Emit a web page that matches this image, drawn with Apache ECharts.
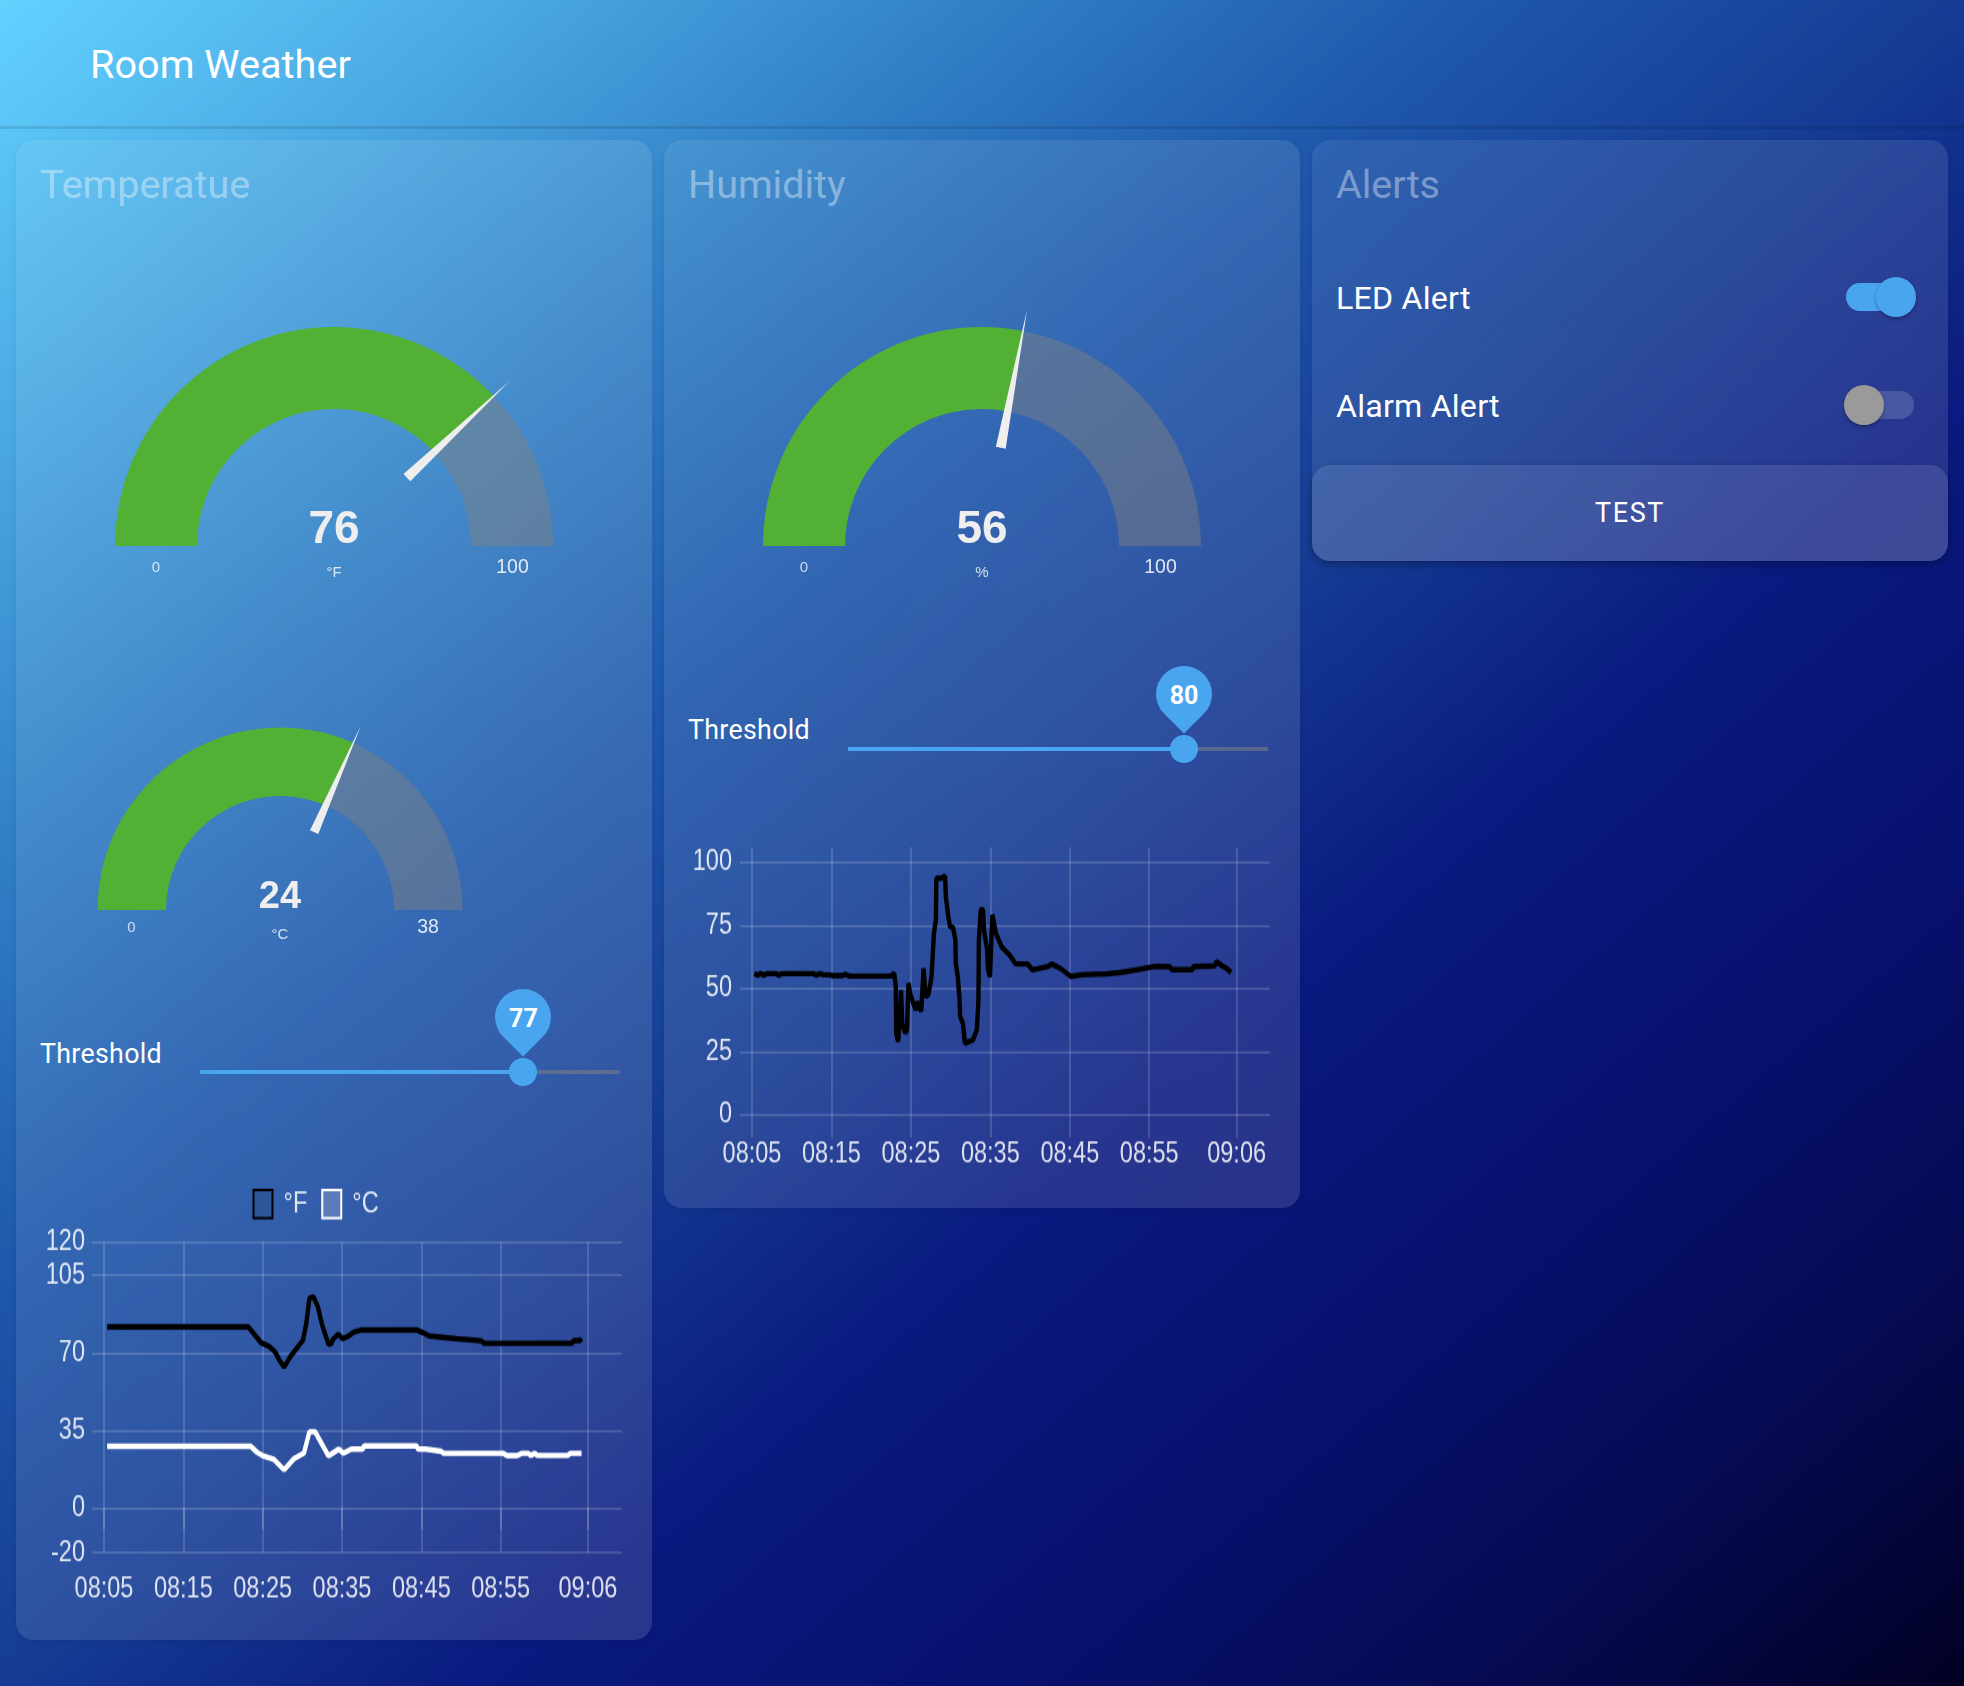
<!DOCTYPE html>
<html lang="en">
<head>
    <meta charset="UTF-8">
    <title>Room Weather</title>
    <script src="https://cdn.jsdelivr.net/npm/echarts@6/dist/echarts.min.js"></script>
    <style>
        html, body { margin: 0; padding: 0; width: 1964px; height: 1686px; overflow: hidden; }
        body {
            position: relative;
            font-family: Roboto, sans-serif;
            color: #fff;
            background: linear-gradient(to bottom right, #62d2ff 0%, #4aa8e2 13%, #3180c6 25%, #1e57ab 38%, #153c94 50%, #0a1a80 62%, #07106c 76%, #050a50 88%, #010024 100%);
        }
        .abs { position: absolute; }
        .header { left: 0; top: 0; width: 1964px; height: 126px; border-bottom: 3px solid rgba(0,0,0,.1); }
        .brand { left: 90px; top: 41px; font-size: 39.7px; line-height: 48px; }
        .card { width: 636px; background: linear-gradient(to bottom right, rgba(255,255,255,.07), rgba(255,255,255,.13)); border-radius: 18px; box-shadow: 0 2px 6px rgba(0,0,0,.08); }
        .card-title { font-size: 39.5px; line-height: 46px; color: rgba(255,255,255,.4); }
        .label { font-size: 26.8px; line-height: 32px; letter-spacing: .3px; }
        .alert { font-size: 32.2px; line-height: 38px; letter-spacing: .2px; }
        .button { left: 1312px; top: 465px; width: 636px; height: 96px; border-radius: 18px; background: rgba(255,255,255,.1); box-shadow: 0 3px 8px rgba(0,0,0,.25);
            font-size: 27px; line-height: 96px; text-align: center; font-weight: 400; letter-spacing: 1.6px; }
        .rail { height: 4px; background: rgba(128,128,128,.55); }
        .fill { height: 4px; background: #4aa5f0; }
        .thumb { width: 28px; height: 28px; border-radius: 50%; background: #4aa5f0; }
        .bubble { width: 56px; height: 56px; background: #4aa5f0; border-radius: 50% 50% 0 50%; transform: rotate(45deg); }
        .bubble-text { width: 56px; text-align: center; font-size: 25px; line-height: 30px; font-weight: 700; }
        .track { width: 68px; height: 28px; border-radius: 14px; }
        .knob { width: 40px; height: 40px; border-radius: 50%; box-shadow: 0 2px 4px rgba(0,0,0,.3); }
        .chart { position: absolute; }
        .stretch { transform: scaleY(1.25); transform-origin: 0 0; }
    </style>
</head>
<body>
    <div class="abs header"></div>
    <div class="abs brand">Room Weather</div>

    <div class="abs card" style="left:16px;top:140px;height:1500px"></div>
    <div class="abs card" style="left:664px;top:140px;height:1068px"></div>
    <div class="abs card" style="left:1312px;top:140px;height:421px"></div>

    <div class="abs card-title" style="left:40px;top:162px">Temperatue</div>
    <div class="abs card-title" style="left:688px;top:162px">Humidity</div>
    <div class="abs card-title" style="left:1336px;top:162px">Alerts</div>

    <div class="abs alert" style="left:1336px;top:279px">LED Alert</div>
    <div class="abs track" style="left:1846px;top:283px;background:#4aa5f0"></div>
    <div class="abs knob" style="left:1876px;top:277px;background:#4aa5f0"></div>
    <div class="abs alert" style="left:1336px;top:387px">Alarm Alert</div>
    <div class="abs track" style="left:1846px;top:391px;background:rgba(255,255,255,.16)"></div>
    <div class="abs knob" style="left:1844px;top:385px;background:#9a9a9a"></div>
    <div class="abs button">TEST</div>

    <div id="gaugeF" class="chart" style="left:40px;top:280px;width:600px;height:320px"></div>
    <div id="gaugeC" class="chart" style="left:40px;top:700px;width:600px;height:260px"></div>
    <div id="gaugeH" class="chart" style="left:688px;top:280px;width:600px;height:320px"></div>
    <div id="lineTemp" class="chart stretch" style="left:40px;top:1170px;width:600px;height:352px"></div>
    <div id="lineHum" class="chart stretch" style="left:680px;top:830px;width:610px;height:280px"></div>

    <script>
        // values
        var tickMinutes = [0, 10, 20, 30, 40, 50, 61];
        var tickLabels = ['08:05', '08:15', '08:25', '08:35', '08:45', '08:55', '09:06'];
        var tempTicks = [-20, 0, 35, 70, 105, 120];
        var humTicks = [0, 25, 50, 75, 100];

        var fMinutes = [0.4, 18.2, 19.8, 20.85, 21.6, 22.1, 22.7, 23.5, 25.1, 25.5, 25.9, 26.4, 26.95, 27.5, 28.3, 28.65, 28.8, 29.5, 30.1, 30.7, 31.5, 32.5, 39.4, 40.2, 41, 41.8, 41.9, 44.5, 44.7, 47.6, 47.9, 59, 59.2, 60, 60.2];
        var fValues = [81.7, 81.7, 74.6, 72.8, 70.3, 66.8, 63.5, 68.3, 75.8, 83.3, 94.6, 95.3, 90.8, 82.6, 73.9, 74, 75.8, 78.4, 76.3, 77.3, 79.4, 80.3, 80.3, 79.1, 77.6, 77.3, 76.3, 76.3, 75.4, 75.4, 74.3, 74.3, 75.5, 75.5, 76.6];

        var cMinutes = [0.4, 18.5, 19.3, 20, 21.4, 22.7, 24, 25.2, 25.9, 26.6, 28.3, 29.6, 30.2, 31.2, 32.6, 32.8, 39.4, 39.6, 40.5, 40.7, 42.5, 42.8, 50.3, 50.8, 52.1, 52.7, 53.5, 53.8, 54.3, 54.6, 58.5, 58.8, 60.2];
        var cValues = [27.9, 27.9, 25.2, 23.7, 22.1, 17.3, 22.5, 24.8, 34.5, 34.5, 23.6, 26.7, 24.8, 26.7, 26.7, 28.1, 28.1, 26.7, 26.7, 25.7, 25.7, 24.8, 24.8, 23.7, 23.7, 24.8, 24.8, 23.7, 24.8, 23.8, 23.8, 24.8, 24.8];

        var humMinutes = [0.3, 0.7, 1.1, 1.5, 1.9, 3, 3.4, 3.8, 4.2, 7.7, 8.1, 8.5, 9, 9.7, 10.1, 11.4, 11.8, 12.2, 17.5, 17.9, 18.1, 18.15, 18.4, 18.6, 18.76, 18.9, 19.3, 19.5, 19.7, 19.95, 20.6, 20.9, 21.3, 21.6, 21.85, 22.2, 22.6, 22.9, 23.15, 23.2, 23.9, 24.3, 24.4, 24.7, 24.95, 25.3, 25.6, 25.65, 25.9, 26.1, 26.2, 26.55, 26.8, 27.8, 28.3, 28.5, 28.56, 28.8, 29.07, 29.2, 29.6, 29.7, 29.95, 30.1, 30.26, 30.46, 30.7, 31.4, 32.4, 33.2, 34.7, 35.3, 37.3, 37.7, 38.9, 40.15, 41.4, 44.8, 46.3, 48.4, 50.7, 52.5, 52.9, 55.4, 55.6, 58.2, 58.5, 59, 59.7, 60.3];
        var humValues = [56, 55.3, 56, 55.3, 56, 56, 55.3, 56, 56, 56, 55.3, 56, 55.5, 55.5, 55.2, 55.2, 55.7, 55, 55, 56.1, 50.9, 32.4, 29, 37.6, 49.5, 36.3, 32.4, 33.7, 52.2, 47.6, 41.6, 44.9, 41, 58.1, 46.9, 47.6, 54.8, 72, 77.3, 93.8, 93.8, 94.7, 86.5, 78.6, 74.4, 74.4, 69.4, 60, 54.8, 46.9, 39, 36.3, 28.4, 29.7, 33.7, 45.6, 69.4, 81.2, 81.5, 73.3, 65.4, 57.5, 54.6, 66.7, 79.3, 80.2, 72, 66.7, 63.4, 59.8, 59.8, 57.5, 58.8, 59.8, 57.9, 54.8, 55.5, 55.9, 56.4, 57.5, 58.8, 58.8, 57.5, 57.5, 58.8, 59, 60.8, 59.4, 58.1, 56.5];

        var gaugeFont = '"Liberation Sans", Arial, sans-serif';

        function drawGauge(id, o) {
            var chart = echarts.init(document.getElementById(id));
            chart.setOption({
                animation: false,
                series: [{
                    type: 'gauge',
                    center: [o.cx, o.cy],
                    radius: o.r,
                    startAngle: 180,
                    endAngle: 0,
                    min: 0,
                    max: o.max,
                    axisLine: { lineStyle: { width: o.band, color: [[o.value / o.max, '#52b135'], [1, 'rgba(127,127,127,.47)']] } },
                    axisTick: { show: false },
                    splitLine: { show: false },
                    axisLabel: { show: false },
                    pointer: {
                        icon: 'triangle',
                        length: o.needle,
                        width: o.needleWidth,
                        offsetCenter: [0, -o.needleBase],
                        itemStyle: { color: '#eee' }
                    },
                    anchor: { show: false },
                    detail: {
                        valueAnimation: false,
                        offsetCenter: [0, o.valueY],
                        color: '#eee',
                        fontFamily: gaugeFont,
                        fontWeight: 'bold',
                        fontSize: o.valueSize
                    },
                    title: {
                        offsetCenter: [0, o.unitY],
                        color: 'rgba(255,255,255,.8)',
                        fontFamily: gaugeFont,
                        fontSize: 15
                    },
                    data: [{ value: o.value, name: o.unit }]
                }],
                graphic: [
                    { type: 'text', x: o.cx + o.minX, y: o.cy + o.labelY, style: { text: '0', align: 'center', verticalAlign: 'middle', fill: 'rgba(255,255,255,.75)', font: '15px ' + gaugeFont } },
                    { type: 'text', x: o.cx + o.maxX, y: o.cy + o.labelY, style: { text: String(o.max), align: 'center', verticalAlign: 'middle', fill: 'rgba(255,255,255,.85)', font: '19.5px ' + gaugeFont } }
                ]
            });
        }

        drawGauge('gaugeF', { cx: 294, cy: 266, r: 219, band: 82, max: 100, value: 76, unit: '°F', needle: 141, needleBase: 100, needleWidth: 10, valueY: -15.5, valueSize: 46, unitY: 27, minX: -178, maxX: 178.5, labelY: 22 });
        drawGauge('gaugeC', { cx: 240, cy: 210, r: 182.5, band: 68.5, max: 38, value: 24, unit: '°C', needle: 116, needleBase: 85, needleWidth: 9, valueY: -12.5, valueSize: 38, unitY: 25, minX: -148.5, maxX: 148, labelY: 18 });
        drawGauge('gaugeH', { cx: 294, cy: 266, r: 219, band: 82, max: 100, value: 56, unit: '%', needle: 141, needleBase: 100, needleWidth: 10, valueY: -15.5, valueSize: 46, unitY: 27, minX: -178, maxX: 178.5, labelY: 22 });

        function pairs(xs, ys) {
            return xs.map(function (x, i) { return [x, ys[i]]; });
        }

        function lineOption(o) {
            var gridColor = 'rgba(255,255,255,.2)';
            var textColor = 'rgba(255,255,255,.85)';
            var chartFont = '"Liberation Sans", Arial, sans-serif';
            return {
                animation: false,
                grid: o.grid,
                legend: o.legend,
                xAxis: {
                    type: 'value',
                    min: 0,
                    max: o.xMax,
                    axisLine: { show: false },
                    axisTick: { show: true, length: o.xTickLength, customValues: tickMinutes, lineStyle: { color: gridColor, width: 1.5 } },
                    splitLine: { show: true, lineStyle: { color: gridColor, width: 1.5 } },
                    axisLabel: {
                        customValues: tickMinutes,
                        margin: o.xMargin,
                        color: textColor,
                        fontFamily: chartFont,
                        fontSize: 23.5,
                        formatter: function (v) { return tickLabels[tickMinutes.indexOf(v)]; }
                    }
                },
                yAxis: {
                    type: 'value',
                    min: o.yMin,
                    max: o.yMax,
                    axisLine: { show: false },
                    axisTick: { show: true, length: 12, customValues: o.yTicks, lineStyle: { color: gridColor, width: 1.5 } },
                    splitLine: { show: true, lineStyle: { color: gridColor, width: 1.5 } },
                    axisLabel: { customValues: o.yTicks, margin: o.yMargin, color: textColor, fontFamily: chartFont, fontSize: 23.5 }
                },
                series: o.series
            };
        }

        function lineSeries(name, data, color, fill) {
            return {
                type: 'line',
                name: name,
                data: data,
                symbol: 'none',
                lineStyle: { color: color, width: 4.4 },
                itemStyle: { color: fill, borderColor: color, borderWidth: 4 }
            };
        }

        var tempChart = echarts.init(document.getElementById('lineTemp'));
        tempChart.setOption(lineOption({
            grid: { left: 64, width: 518, top: 57.4, height: 248.8 },
            legend: {
                left: 212.5, top: 15, padding: 0, icon: 'rect', itemWidth: 19, itemHeight: 22.5, itemGap: 14,
                textStyle: { color: 'rgba(255,255,255,.85)', fontFamily: gaugeFont, fontSize: 23.5, padding: [0, 0, 0, 6] },
                data: ['°F', '°C']
            },
            xMax: 65.3, xTickLength: 17, xMargin: 17, yMargin: 19,
            yMin: -20, yMax: 120, yTicks: tempTicks,
            series: [
                lineSeries('°F', pairs(fMinutes, fValues), '#000', 'rgba(0,0,0,.1)'),
                lineSeries('°C', pairs(cMinutes, cValues), '#fff', 'rgba(255,255,255,.2)')
            ]
        }));

        var humChart = echarts.init(document.getElementById('lineHum'));
        humChart.setOption(lineOption({
            grid: { left: 72, width: 518, top: 13.8, height: 214.2 },
            xMax: 65.2, xTickLength: 18, xMargin: 19.5, yMargin: 20,
            yMin: 0, yMax: 106, yTicks: humTicks,
            series: [lineSeries('%', pairs(humMinutes, humValues), '#000', 'rgba(0,0,0,.1)')]
        }));

        // threshold sliders
        function drawSlider(label, labelX, labelY, trackX, trackY, value) {
            var thumbX = trackX + 420 * value / 100;
            var add = function (cls, style, text) {
                var el = document.createElement('div');
                el.className = 'abs ' + cls;
                el.style.cssText = style;
                if (text) el.textContent = text;
                document.body.appendChild(el);
            };
            add('label', 'left:' + labelX + 'px;top:' + (labelY - 16) + 'px', label);
            add('rail', 'left:' + trackX + 'px;top:' + (trackY - 2) + 'px;width:420px');
            add('fill', 'left:' + trackX + 'px;top:' + (trackY - 2) + 'px;width:' + (thumbX - trackX) + 'px');
            add('thumb', 'left:' + (thumbX - 14) + 'px;top:' + (trackY - 14) + 'px');
            add('bubble', 'left:' + (thumbX - 28) + 'px;top:' + (trackY - 83) + 'px');
            add('bubble-text', 'left:' + (thumbX - 28) + 'px;top:' + (trackY - 68) + 'px', String(value));
        }
        drawSlider('Threshold', 40, 1054, 200, 1072, 77);
        drawSlider('Threshold', 688, 730, 848, 749, 80);
    </script>
</body>
</html>
